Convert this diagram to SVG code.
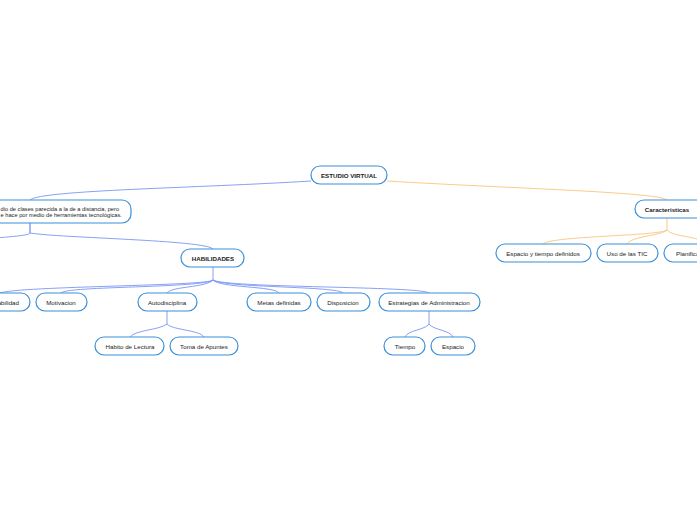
<svg xmlns="http://www.w3.org/2000/svg" width="697" height="520" viewBox="0 0 697 520">
<style>
.n rect{fill:#fff;stroke:#3b8fd9;stroke-width:1.2}
.n text{font-family:"Liberation Sans",Arial,sans-serif;font-size:6.2px;fill:#222;text-anchor:middle}
.b text{font-weight:bold}
.c path{fill:none;stroke-width:0.9}
.bl path{stroke:#7b95f5}
.or path{stroke:#f9c47c}
</style>
<rect width="697" height="520" fill="#fff"/>
<g class="c">
<g class="bl">
<path d="M311,181 C200,188 40,190 30,200"/>
<path d="M30,223 V233 C30,236 0,237 -20,240"/>
<path d="M30,223 V233 C60,238 205,240 213,249"/>
<path d="M213,267 V280 C210,286 20,286 0,293"/>
<path d="M213,280 C205,288 65,286 61,293"/>
<path d="M213,280 C205,288 172,286 167,293"/>
<path d="M213,280 C220,288 275,286 279,293"/>
<path d="M213,280 C225,288 338,286 343,293"/>
<path d="M213,280 C225,288 420,286 429,293"/>
<path d="M167,311 V324 C160,330 135,330 130,337"/>
<path d="M167,324 C172,330 200,330 204,337"/>
<path d="M429,311 V324 C425,330 408,330 405,337"/>
<path d="M429,324 C433,330 450,330 453,337"/>
</g>
<g class="or">
<path d="M387,181 C500,188 660,192 667,200"/>
<path d="M667,218 V230 C660,236 550,236 543,244"/>
<path d="M667,230 C660,236 632,236 627,244"/>
<path d="M667,230 C672,236 690,236 700,240"/>
</g>
</g>
<g id="root" class="n b"><rect x="311" y="166" width="76" height="18" rx="9"/><text x="349" y="177.5">ESTUDIO VIRTUAL</text></g>
<g id="desc" class="n"><rect x="-120" y="200" width="251" height="23" rx="9"/><text x="0.5" y="210.5" style="text-anchor:start;font-size:5.7px">dio de clases parecida a la de a distancia, pero</text><text x="0.5" y="217" style="text-anchor:start;font-size:5.7px">e hace por medio de herramientas tecnológicas.</text></g>
<g id="carac" class="n b"><rect x="635" y="200" width="80" height="18" rx="9"/><text x="667" y="211.5">Caracteristicas</text></g>
<g id="espt" class="n"><rect x="496" y="244" width="95" height="18" rx="9"/><text x="543" y="255.5">Espacio  y tiempo definidos</text></g>
<g id="tic" class="n"><rect x="597" y="244" width="61" height="18" rx="9"/><text x="627" y="255.5">Uso de las TIC</text></g>
<g id="plan" class="n"><rect x="664" y="244" width="60" height="18" rx="9"/><text x="676" y="255.5" style="text-anchor:start">Planifica</text></g>
<g id="hab" class="n b"><rect x="181" y="249" width="63" height="18" rx="9"/><text x="213" y="260.5">HABILIDADES</text></g>
<g id="resp" class="n"><rect x="-40" y="293" width="70" height="18" rx="9"/><text x="19" y="304.5" style="text-anchor:end">abilidad</text></g>
<g id="mot" class="n"><rect x="36" y="293" width="51" height="18" rx="9"/><text x="61" y="304.5">Motivacion</text></g>
<g id="auto" class="n"><rect x="138" y="293" width="59" height="18" rx="9"/><text x="167" y="304.5">Autodisciplina</text></g>
<g id="metas" class="n"><rect x="247" y="293" width="64" height="18" rx="9"/><text x="279" y="304.5">Metas definidas</text></g>
<g id="disp" class="n"><rect x="317" y="293" width="53" height="18" rx="9"/><text x="343" y="304.5">Disposicion</text></g>
<g id="estr" class="n"><rect x="379" y="293" width="101" height="18" rx="9"/><text x="429" y="304.5">Estrategias de Administracion</text></g>
<g id="hl" class="n"><rect x="95" y="337" width="69" height="18" rx="9"/><text x="130" y="348.5">Habito de Lectura</text></g>
<g id="ta" class="n"><rect x="170" y="337" width="68" height="18" rx="9"/><text x="204" y="348.5">Toma de Apuntes</text></g>
<g id="tiempo" class="n"><rect x="384" y="337" width="41" height="18" rx="9"/><text x="405" y="348.5">Tiempo</text></g>
<g id="espacio" class="n"><rect x="431" y="337" width="44" height="18" rx="9"/><text x="453" y="348.5">Espacio</text></g>
</svg>
